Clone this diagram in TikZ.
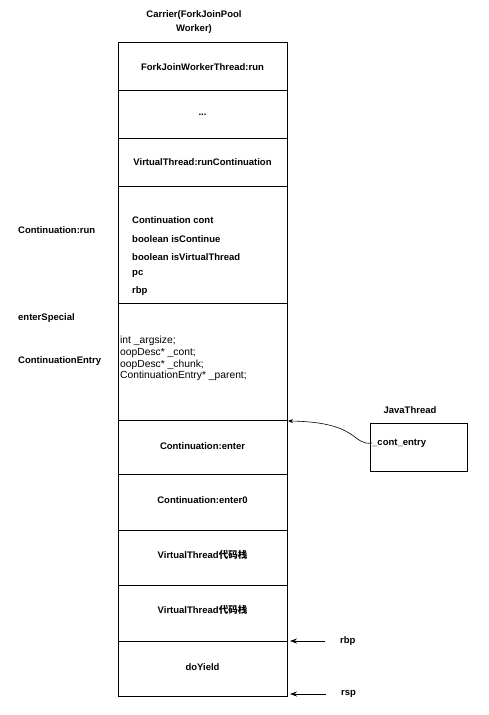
\documentclass[tikz,border=0pt]{standalone}
\usepackage{fontspec}
\setmainfont{Liberation Sans}
\newfontfamily\cjk{Noto Sans CJK SC}
\usetikzlibrary{arrows.meta}
\begin{document}
\begin{tikzpicture}[x=1pt,y=-1pt,
  cell/.style={draw,line width=1pt},
  lbl/.style={font=\fontsize{9.5}{12}\selectfont\bfseries,inner sep=0pt},
  side/.style={lbl,anchor=west},
  ptr/.style={-{Stealth[length=7pt,width=5pt]},line width=0.8pt}]
\useasboundingbox (0,0) rectangle (489,715);
% title
\node[lbl,align=center,font=\fontsize{9.5}{14}\selectfont\bfseries] (title) at (194,22) {Carrier(ForkJoinPool\\Worker)};
% column cells
\draw[cell] (118,42) rectangle (287,90);
\draw[cell] (118,90) rectangle (287,138);
\draw[cell] (118,138) rectangle (287,186);
\draw[cell] (118,186) rectangle (287,303);
\draw[cell] (118,303) rectangle (287,420);
\draw[cell] (118,420) rectangle (287,474);
\draw[cell] (118,474) rectangle (287,530);
\draw[cell] (118,530) rectangle (287,585);
\draw[cell] (118,585) rectangle (287,641);
\draw[cell] (118,641) rectangle (287,696);
% cell texts
\node[lbl] (r1) at (202.5,67) {ForkJoinWorkerThread:run};
\node[lbl] (r2) at (202.5,115) {...};
\node[lbl] (r3) at (202.5,162) {VirtualThread:runContinuation};
\node[side] (c1) at (132,220) {Continuation cont};
\node[side] (c2) at (132,239) {boolean isContinue};
\node[side] (c3) at (132,257) {boolean isVirtualThread};
\node[side] (c4) at (132,274) {pc};
\node[side] (c5) at (132,291) {rbp};
\node[anchor=north west,align=left,inner sep=0pt,font=\fontsize{10.3}{11.7}\selectfont] (entry) at (120,336)
  {int \_argsize;\\oopDesc* \_cont;\\oopDesc* \_chunk;\\ContinuationEntry* \_parent;};
\node[lbl] (r6) at (202.5,446) {Continuation:enter};
\node[lbl] (r7) at (202.5,500) {Continuation:enter0};
\node[lbl] (r8) at (202.5,555) {VirtualThread{\cjk 代码栈}};
\node[lbl] (r9) at (202.5,610) {VirtualThread{\cjk 代码栈}};
\node[lbl] (r10) at (202.5,667) {doYield};
% left labels
\node[side] (l1) at (18,230) {Continuation:run};
\node[side] (l2) at (18,318) {enterSpecial};
\node[side] (l3) at (18,361) {ContinuationEntry};
% JavaThread
\node[lbl] (jt) at (410,410) {JavaThread};
\draw[cell] (370,423) rectangle (467,471);
\node[side] (ce) at (372,443) {\_cont\_entry};
\coordinate (entrypt) at (288,421);
\draw[-{Stealth[length=5pt,width=4pt]},line width=0.6pt] (ce.west) .. controls (352,446) and (360,422) .. (entrypt);
% rbp / rsp
\node[side] (rbp) at (340,641) {rbp};
\node[side] (rsp) at (341,694) {rsp};
\coordinate (rbpt) at (290,641);
\coordinate (rspt) at (290,694);
\draw[ptr] ([xshift=-15pt]rbp.west) -- (rbpt);
\draw[ptr] ([xshift=-15pt]rsp.west) -- (rspt);
\end{tikzpicture}
\end{document}
